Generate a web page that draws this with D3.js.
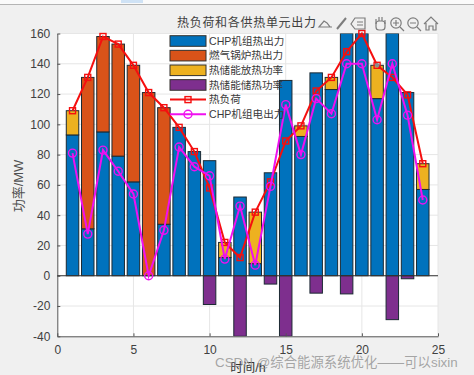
<!DOCTYPE html>
<html><head><meta charset="utf-8">
<script src="https://cdn.jsdelivr.net/npm/d3@7"></script>
<style>
html,body{margin:0;padding:0;background:#f0f0f0;overflow:hidden}
svg{display:block}
text{font-family:"Liberation Sans","Noto Sans CJK SC",sans-serif}
</style></head><body><svg id="c" width="474" height="375"></svg>
<script>
const hours=[1,2,3,4,5,6,7,8,9,10,11,12,13,14,15,16,17,18,19,20,21,22,23,24];
const chpHeat=[93,31,95,79,62,0,34,98,82,76,12,52,8,68,129,92,134,123,160,160,117,160,121,57];
const boilerHeat=[0,100,63,74,77,121,77,0,0,0,0,0,0,0,0,0,0,0,0,0,0,0,0,0];
const storageOut=[16,0,0,0,0,0,0,0,0,0,10,0,34,0,0,7,0,8,0,0,22,0,0,17];
const storageIn=[0,0,0,0,0,0,0,0,0,-19,0,-40,0,-5.5,-40,0,-11.5,0,-12,0,0,-29,-2,0];
const heatLoad=[109,131,158,153,139,121,111,98,82,58,22,12,42,62,89,99,122,131,148,160,139,131,119.5,74];
const chpPower=[81,27.5,83,69,54,0,30,85,72,66,11,46,7,59,113,80,117,107,140,140,103,140,106,50];
const xTicks=[0,5,10,15,20,25];
const yTicks=[-40,-20,0,20,40,60,80,100,120,140,160];
const titleText="热负荷和各供热单元出力";
const xLabel="时间/h", yLabel="功率/MW";
const watermark="CSDN @综合能源系统优化——可以sixin";
const legendNames=["CHP机组热出力","燃气锅炉热出力","热储能放热功率","热储能储热功率","热负荷","CHP机组电出力"];
const colors=["#0072BD","#D95319","#EDB120","#7E2F8E"];
const loadColor="#f50f0f", powerColor="#f010f0";

const svg=d3.select("#c");
const L=57.3,R=438,T=33.5,B=336.3;
const x=d3.scaleLinear().domain([0,25]).range([L,R]);
const y=d3.scaleLinear().domain([-40,160]).range([B,T]);

// window chrome
svg.append("rect").attr("width",474).attr("height",4).attr("fill","#fafafa");
svg.append("rect").attr("y",4).attr("width",474).attr("height",1).attr("fill","#b4b4b4");
svg.append("rect").attr("x",121).attr("width",22).attr("height",3).attr("fill","#cfe2f5");
svg.append("rect").attr("x",L).attr("y",T).attr("width",R-L).attr("height",B-T).attr("fill","#fff");

// grid
const grid=svg.append("g").attr("stroke","#e6e6e6").attr("stroke-width",1);
grid.selectAll("line.v").data(xTicks.slice(1)).join("line").attr("x1",d=>x(d)).attr("x2",d=>x(d)).attr("y1",T).attr("y2",B);
grid.selectAll("line.h").data(yTicks.slice(1)).join("line").attr("x1",L).attr("x2",R).attr("y1",d=>y(d)).attr("y2",d=>y(d));

// stacked bars
svg.append("clipPath").attr("id","pa").append("rect").attr("x",L).attr("y",T).attr("width",R-L).attr("height",B-T);
const rows=hours.map((h,i)=>({h,chp:chpHeat[i],boiler:boilerHeat[i],out:storageOut[i],inn:storageIn[i]}));
const keys=["chp","boiler","out","inn"];
const stack=d3.stack().keys(keys).offset(d3.stackOffsetDiverging)(rows);
const bw=x(0.82)-x(0);
const bars=svg.append("g").attr("clip-path","url(#pa)");
stack.forEach((s,k)=>{
  bars.append("g").selectAll("rect").data(s.filter(d=>d[1]!==d[0])).join("rect")
   .attr("x",d=>x(d.data.h)-bw/2).attr("width",bw)
   .attr("y",d=>y(Math.max(d[0],d[1]))).attr("height",d=>Math.abs(y(d[0])-y(d[1])))
   .attr("fill",colors[k]).attr("stroke","#1c2a33").attr("stroke-width",1);
});

// axes
const fmt=d=>String(d);
const gx=svg.append("g").attr("transform",`translate(0,${B})`)
  .call(d3.axisBottom(x).tickValues(xTicks).tickFormat(fmt).tickSizeInner(-3).tickSizeOuter(0).tickPadding(8));
const gy=svg.append("g").attr("transform",`translate(${L},0)`)
  .call(d3.axisLeft(y).tickValues(yTicks).tickFormat(fmt).tickSizeInner(-3).tickSizeOuter(0).tickPadding(7));
[gx,gy].forEach(g=>{
  g.selectAll("path,line").attr("stroke","#555").attr("stroke-width",1);
  g.selectAll("text").attr("font-size",12).attr("fill","#404040").attr("font-family",'"Liberation Sans",sans-serif');
});
gx.selectAll("text").attr("dy","0.8em");
// zero baseline
svg.append("line").attr("x1",L).attr("x2",R).attr("y1",y(0)).attr("y2",y(0)).attr("stroke","#333").attr("stroke-width",1);

// lines
function series(vals,color,sw){
  const g=svg.append("g");
  g.append("path").attr("d",d3.line().x((d,i)=>x(hours[i])).y(d=>y(d))(vals))
    .attr("fill","none").attr("stroke",color).attr("stroke-width",sw);
  return g;
}
series(heatLoad,loadColor,2).selectAll("rect").data(heatLoad).join("rect")
  .attr("x",(d,i)=>x(hours[i])-3).attr("y",d=>y(d)-3).attr("width",6).attr("height",6)
  .attr("fill","none").attr("stroke",loadColor).attr("stroke-width",1.4);
series(chpPower,powerColor,2).selectAll("circle").data(chpPower).join("circle")
  .attr("cx",(d,i)=>x(hours[i])).attr("cy",d=>y(d)).attr("r",4)
  .attr("fill","none").attr("stroke",powerColor).attr("stroke-width",1.4);
// data-cursor dot seen on hour 21
svg.append("circle").attr("cx",x(21)).attr("cy",y(heatLoad[20])).attr("r",2.2).attr("fill","#8a8a8a");

// legend
const lx=170,lw=36,ly0=41,ldy=14.65;
const lg=svg.append("g");
legendNames.forEach((n,i)=>{
  const yy=ly0+i*ldy;
  if(i<4){
    lg.append("rect").attr("x",lx).attr("y",yy-5.3).attr("width",lw).attr("height",10.6)
      .attr("fill",colors[i]).attr("stroke","#33312c").attr("stroke-width",1);
  }else{
    const c=i===4?loadColor:powerColor;
    lg.append("line").attr("x1",lx).attr("x2",lx+lw).attr("y1",yy).attr("y2",yy).attr("stroke",c).attr("stroke-width",2);
    if(i===4) lg.append("rect").attr("x",lx+lw/2-3).attr("y",yy-3).attr("width",6).attr("height",6).attr("fill","none").attr("stroke",c).attr("stroke-width",1.4);
    else lg.append("circle").attr("cx",lx+lw/2).attr("cy",yy).attr("r",4).attr("fill","none").attr("stroke",c).attr("stroke-width",1.4);
  }
  lg.append("text").attr("x",209).attr("y",yy+3.8).attr("font-size",10.6).attr("fill","#3a3a3a").text(n);
});

// titles
svg.append("text").attr("x",177).attr("y",27).attr("font-size",12).attr("letter-spacing",0.7).attr("fill","#404040").text(titleText);
svg.append("text").attr("transform","translate(23,186) rotate(-90)").attr("text-anchor","middle").attr("font-size",13).attr("fill","#505050").text(yLabel);
svg.append("text").attr("x",248).attr("y",372).attr("text-anchor","middle").attr("font-size",12.5).attr("fill","#333").text(xLabel);
svg.append("text").attr("x",215).attr("y",367).attr("font-size",13.4).attr("fill","#909090").attr("fill-opacity",0.8).text(watermark);

// figure toolbar
const tb=svg.append("g").attr("fill","none").attr("stroke","#7d7d7d").attr("stroke-width",1.2);
tb.append("path").attr("d","M319 27l5-6 3 2 3 4zM330 27h2");
tb.append("path").attr("d","M337 29l9-11").attr("stroke-width",2);
tb.append("path").attr("d","M355 18h10v11h-10l-4-5z M357 22h6 M357 25h6");
tb.append("rect").attr("x",376).attr("y",21).attr("width",9).attr("height",9).attr("rx",3);
tb.append("path").attr("d","M376 24v-5M379 21v-4M382 21v-4M385 24v-4");
[[396,23],[413,23]].forEach(([cx,cy],i)=>{
  tb.append("circle").attr("cx",cx).attr("cy",cy).attr("r",5.2);
  tb.append("path").attr("d",`M${cx+4} ${cy+4}l4 4M${cx-3} ${cy}h6`+(i===0?`M${cx} ${cy-3}v6`:""));
});
tb.append("path").attr("d","M424 24l7-7 7 7M426 23v7h3v-4h4v4h3v-7");
</script></body></html>
